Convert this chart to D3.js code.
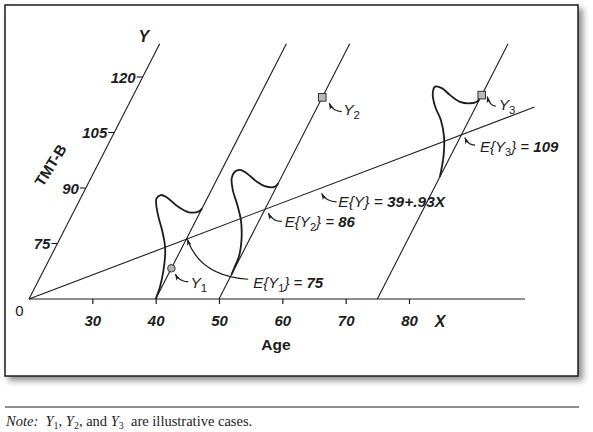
<!DOCTYPE html>
<html>
<head>
<meta charset="utf-8">
<script src="https://cdn.jsdelivr.net/npm/d3@7"></script>
<style>
body { margin: 0; background: #fff; }
svg { display: block; font-family: "Liberation Sans", Arial, Helvetica, sans-serif; }
</style>
</head>
<body>
<svg class="age-chart" width="593" height="432"></svg>
<script>
// ages on the bottom axis
var ageTicks = [30, 40, 50, 60, 70, 80];
// TMT-B values on the slanted axis
var tmtTicks = [75, 90, 105, 120];
// ages that get a slanted line (20 = the TMT-B axis itself)
var lineAges = [20, 40, 50, 75];
var tmtBase = 60, tmtTop = 129, ageEnd = 98.3;

// regression line as drawn, [age, tmt]
var regression = [[20, 60], [84.3, 111.9]];
var regressionText = "39+.93X";

// illustrative cases
var caseNames = ["1", "2", "3"];
var caseAges = [40, 50, 75];
var caseTmt = [68.3, 114.5, 115.1];
var expectedText = ["75", "86", "109"];

// conditional distributions: [years left/right of the line, tmt]
var dist40 = [[0, 60], [-0.3, 63.3], [-1.1, 67.8], [-2.2, 72.4], [-3.1, 75.1], [-4.6, 78.7], [-6.2, 82.2],
    [-7.5, 85.4], [-8.0, 87.2], [-7.6, 88.1], [-6.5, 87.5], [-4.2, 85.2], [-1.9, 83.5], [-0.3, 83.6], [0, 84.5]];
var dist50 = [[0, 66.5], [-0.1, 68.3], [-0.35, 71.9], [-1.45, 76.8], [-2.95, 81.4], [-4.7, 85.4], [-6.65, 89.5],
    [-7.75, 92.6], [-7.8, 94.4], [-7.1, 94.9], [-5.8, 94.0], [-3.5, 91.7], [-1.9, 90.5], [-0.25, 90.35], [0, 91.3]];
var dist75 = [[0, 93], [-1.07, 98.5], [-2.6, 103.9], [-4.45, 108.4], [-6.43, 112.0], [-7.88, 115.6], [-8.05, 117.4],
    [-6.87, 117.0], [-5.0, 115.1], [-2.9, 113.3], [-1.18, 112.9], [-0.25, 113.3], [0, 115.1]];

var svg = d3.select(".age-chart");
var ink = "#1c1c1c";

var x = d3.scaleLinear().domain([20, 80]).range([29, 409]);
var y = d3.scaleLinear().domain([60, 120]).range([299, 77]);
var lean = 0.512;   // slant of the TMT-B axis, px across per px up

function pos(age, tmt) {
    return [x(age) + (y(tmtBase) - y(tmt)) * lean, y(tmt)];
}

function regTmt(age) {
    var t = (age - regression[0][0]) / (regression[1][0] - regression[0][0]);
    return regression[0][1] + t * (regression[1][1] - regression[0][1]);
}

var defs = svg.append("defs");
defs.append("filter")
    .attr("id", "shadow")
    .attr("x", "-5%").attr("y", "-5%").attr("width", "115%").attr("height", "115%")
    .append("feDropShadow")
    .attr("dx", 4).attr("dy", 4)
    .attr("stdDeviation", 3)
    .attr("flood-color", "#000")
    .attr("flood-opacity", 0.45);

defs.append("marker")
    .attr("id", "arrow")
    .attr("viewBox", "0 0 10 6")
    .attr("refX", 9).attr("refY", 3)
    .attr("markerWidth", 7).attr("markerHeight", 5)
    .attr("markerUnits", "userSpaceOnUse")
    .attr("orient", "auto")
    .append("path")
    .attr("d", "M0,0 L10,3 L0,6 L2.5,3 Z")
    .attr("fill", ink);

// frame
svg.append("rect")
    .attr("x", 5).attr("y", 5)
    .attr("width", 573).attr("height", 371)
    .attr("fill", "#fff")
    .attr("stroke", ink)
    .attr("stroke-width", 1.5)
    .attr("filter", "url(#shadow)");

// bottom axis
svg.append("line")
    .attr("x1", x(20)).attr("x2", x(ageEnd))
    .attr("y1", y(tmtBase)).attr("y2", y(tmtBase))
    .attr("stroke", ink).attr("stroke-width", 1.2);

var xAxis = svg.append("g")
    .attr("transform", "translate(0," + y(tmtBase) + ")")
    .call(d3.axisBottom(x).tickValues(ageTicks).tickSize(5).tickPadding(11.5));
xAxis.select(".domain").remove();
xAxis.selectAll("line").attr("stroke", ink).attr("stroke-width", 1.2);
xAxis.selectAll("text")
    .attr("fill", ink)
    .style("font-family", "'Liberation Sans', Arial, sans-serif")
    .style("font-size", "15px")
    .style("font-weight", "bold")
    .style("font-style", "italic");

svg.append("text")
    .attr("x", 440).attr("y", 326.7)
    .attr("text-anchor", "middle")
    .style("font-size", "16px").style("font-weight", "bold").style("font-style", "italic")
    .attr("fill", ink)
    .text("X");

svg.append("text")
    .attr("x", 276).attr("y", 350)
    .attr("text-anchor", "middle")
    .style("font-size", "15.5px").style("font-weight", "bold")
    .attr("fill", ink)
    .text("Age");

svg.append("text")
    .attr("x", 19.5).attr("y", 316)
    .attr("text-anchor", "middle")
    .style("font-size", "15px")
    .attr("fill", ink)
    .text("0");

// slanted lines
svg.append("g")
    .selectAll("line")
    .data(lineAges)
    .enter().append("line")
    .attr("x1", function(d) { return pos(d, tmtBase)[0]; })
    .attr("y1", function(d) { return pos(d, tmtBase)[1]; })
    .attr("x2", function(d) { return pos(d, tmtTop)[0]; })
    .attr("y2", function(d) { return pos(d, tmtTop)[1]; })
    .attr("stroke", ink)
    .attr("stroke-width", 1.1);

// TMT-B ticks
var yTicks = svg.append("g")
    .selectAll("g")
    .data(tmtTicks)
    .enter().append("g")
    .attr("transform", function(d) { var p = pos(20, d); return "translate(" + p[0] + "," + p[1] + ")"; });
yTicks.append("line")
    .attr("x1", -6).attr("x2", 0)
    .attr("stroke", ink).attr("stroke-width", 1.1);
yTicks.append("text")
    .attr("x", -7).attr("y", 5.5)
    .attr("text-anchor", "end")
    .style("font-size", "15px").style("font-weight", "bold").style("font-style", "italic")
    .attr("fill", ink)
    .text(function(d) { return d; });

var yTopP = pos(20, tmtTop);
svg.append("text")
    .attr("x", yTopP[0] - 16).attr("y", yTopP[1] - 2)
    .attr("text-anchor", "middle")
    .style("font-size", "16px").style("font-weight", "bold").style("font-style", "italic")
    .attr("fill", ink)
    .text("Y");

svg.append("text")
    .attr("transform", "translate(55,168) rotate(-58)")
    .attr("text-anchor", "middle")
    .style("font-size", "15px").style("font-weight", "bold")
    .attr("fill", ink)
    .text("TMT-B");

// regression line
svg.append("line")
    .attr("x1", pos(regression[0][0], regression[0][1])[0])
    .attr("y1", pos(regression[0][0], regression[0][1])[1])
    .attr("x2", pos(regression[1][0], regression[1][1])[0])
    .attr("y2", pos(regression[1][0], regression[1][1])[1])
    .attr("stroke", ink)
    .attr("stroke-width", 1.1);

// distributions
var dists = [{ age: 40, pts: dist40 }, { age: 50, pts: dist50 }, { age: 75, pts: dist75 }];
var curve = d3.line()
    .x(function(d) { return d[0]; })
    .y(function(d) { return d[1]; })
    .curve(d3.curveCatmullRom.alpha(0.5));

svg.append("g")
    .selectAll("path")
    .data(dists)
    .enter().append("path")
    .attr("d", function(d) {
        return curve(d.pts.map(function(p) { return pos(d.age + p[0], p[1]); }));
    })
    .attr("fill", "none")
    .attr("stroke", ink)
    .attr("stroke-width", 1.8);

// cases
var caseData = caseNames.map(function(n, i) {
    return { name: n, age: caseAges[i], tmt: caseTmt[i] };
});
var marks = svg.append("g");
marks.selectAll("circle")
    .data(caseData.filter(function(d) { return d.name == "1"; }))
    .enter().append("circle")
    .attr("cx", function(d) { return pos(d.age, d.tmt)[0]; })
    .attr("cy", function(d) { return pos(d.age, d.tmt)[1]; })
    .attr("r", 3.8)
    .attr("fill", "#b4b4b4")
    .attr("stroke", "#333")
    .attr("stroke-width", 1);
marks.selectAll("rect")
    .data(caseData.filter(function(d) { return d.name != "1"; }))
    .enter().append("rect")
    .attr("x", function(d) { return pos(d.age, d.tmt)[0] - 3.8; })
    .attr("y", function(d) { return pos(d.age, d.tmt)[1] - 3.8; })
    .attr("width", 7.6).attr("height", 7.6)
    .attr("fill", "#b8b8b8")
    .attr("stroke", "#333")
    .attr("stroke-width", 1);

// labels with subscripts
function label(px, py, parts, size) {
    var t = svg.append("text")
        .attr("x", px).attr("y", py)
        .style("font-size", size + "px")
        .attr("fill", ink);
    parts.forEach(function(p) {
        var s = t.append("tspan").text(p.t);
        if (p.sub) s.attr("dy", 4).style("font-size", (size - 4) + "px").style("font-style", "normal");
        if (p.after) s.attr("dy", -4);
        if (p.it) s.style("font-style", "italic");
        if (p.b) s.style("font-weight", "bold").style("font-style", "italic");
    });
}

function arrow(anchor, head, tail, ctrl) {
    var h = [anchor[0] + head[0], anchor[1] + head[1]];
    var t = [anchor[0] + tail[0], anchor[1] + tail[1]];
    var c = ctrl ? [anchor[0] + ctrl[0], anchor[1] + ctrl[1]] : [h[0] + (t[0] - h[0]) * 0.3, t[1]];
    svg.append("path")
        .attr("d", "M" + t[0] + "," + t[1] + " Q" + c[0] + "," + c[1] + " " + h[0] + "," + h[1])
        .attr("fill", "none")
        .attr("stroke", ink)
        .attr("stroke-width", 1.2)
        .attr("marker-end", "url(#arrow)");
}

// Y1, Y2, Y3
var caseLayout = [
    { head: [4, 6], tail: [17, 13.5], text: [19, 20] },
    { head: [7, 6], tail: [19.5, 14.3], text: [21, 18] },
    { head: [5.5, 1.5], tail: [14, 11], text: [17, 15] }
];
caseData.forEach(function(d, i) {
    var a = pos(d.age, d.tmt), L = caseLayout[i];
    arrow(a, L.head, L.tail);
    label(a[0] + L.text[0], a[1] + L.text[1], [
        { t: "Y", it: true }, { t: d.name, sub: true }
    ], 15.5);
});

// E{Y1}, E{Y2}, E{Y3}
var expLayout = [
    { head: [1, 0], tail: [62, 40], ctrl: [14, 37], text: [67, 49] },
    { head: [3.5, 3.8], tail: [17, 12], text: [20, 17.2] },
    { head: [3.5, 3], tail: [13.6, 10.3], text: [18.6, 17] }
];
caseAges.forEach(function(age, i) {
    var a = pos(age, regTmt(age)), L = expLayout[i];
    arrow(a, L.head, L.tail, L.ctrl);
    label(a[0] + L.text[0], a[1] + L.text[1], [
        { t: "E{Y", it: true }, { t: caseNames[i], sub: true },
        { t: "} = ", it: true, after: true }, { t: expectedText[i], b: true }
    ], 15);
});

// E{Y} = 39+.93X
var regAnchor = pos(57, regTmt(57));
arrow(regAnchor, [1.8, 5], [16.8, 13.3]);
label(regAnchor[0] + 18.4, regAnchor[1] + 18.3, [
    { t: "E{Y} = ", it: true }, { t: regressionText, b: true }
], 15.5);

// note under the frame
svg.append("line")
    .attr("x1", 5).attr("x2", 579)
    .attr("y1", 407).attr("y2", 407)
    .attr("stroke", ink).attr("stroke-width", 1);

var note = svg.append("text")
    .attr("x", 6).attr("y", 426)
    .style("font-family", "'Liberation Serif', 'Times New Roman', serif")
    .style("font-size", "14.5px")
    .attr("fill", ink)
    .attr("xml:space", "preserve");
note.append("tspan").style("font-style", "italic").text("Note:");
note.append("tspan").text("  ");
[["1", ", "], ["2", ", and "], ["3", "  are illustrative cases."]].forEach(function(p) {
    note.append("tspan").style("font-style", "italic").text("Y");
    note.append("tspan").attr("dy", 3).style("font-size", "10px").text(p[0]);
    note.append("tspan").attr("dy", -3).text(p[1]);
});
</script>
</body>
</html>
